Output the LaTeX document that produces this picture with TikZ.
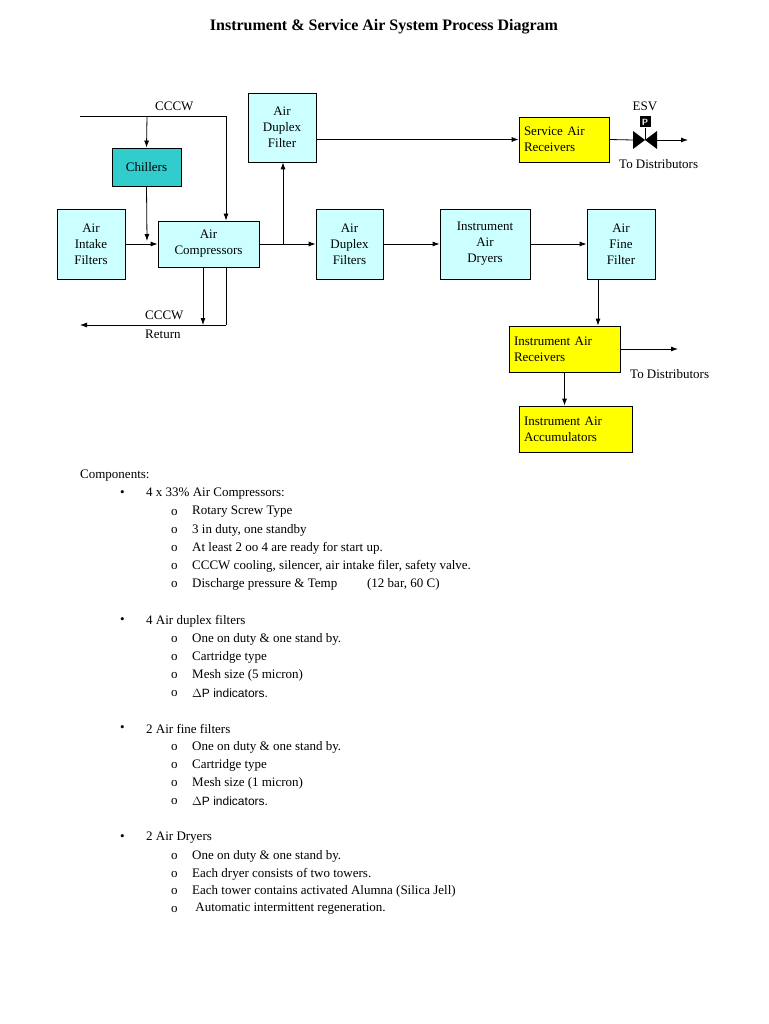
\documentclass[tikz,border=0pt]{standalone}
\usepackage{fontspec}
\setmainfont{Liberation Serif}
\newfontfamily\sansf{Liberation Sans}
\usetikzlibrary{arrows.meta}
\definecolor{lc}{RGB}{204,255,255}
\definecolor{teal2}{RGB}{51,204,204}
\definecolor{yel}{RGB}{255,255,0}
\begin{document}
\begin{tikzpicture}[x=1pt,y=-1pt,
  box/.style={draw,thick,fill=lc,align=center,font=\fontsize{13}{16}\selectfont,inner sep=0pt},
  ybox/.style={box,fill=yel,align=left},
  ar/.style={-{Latex[length=7pt,width=5pt]},thick},
  ln/.style={thick},
  txt/.style={font=\fontsize{13}{16}\selectfont,inner sep=0pt,anchor=west}]
\useasboundingbox[fill=white] (0,0) rectangle (768,1024);
\node[font=\bfseries\fontsize{16}{19}\selectfont] (title) at (384,27) {Instrument \& Service Air System Process Diagram};
% boxes
\node[box,minimum width=68,minimum height=70] (aif) at (91,244) {Air\\Intake\\Filters};
\node[box,fill=teal2,minimum width=69,minimum height=38] (ch) at (146.5,167) {Chillers};
\node[box,minimum width=101,minimum height=46] (ac) at (208.5,244) {Air\\Compressors};
\node[box,minimum width=68,minimum height=69] (adf) at (282,127.5) {Air\\Duplex\\Filter};
\node[box,minimum width=67,minimum height=70] (adfs) at (349.5,244) {Air\\Duplex\\Filters};
\node[box,minimum width=90,minimum height=70] (iad) at (485,244) {Instrument\\Air\\Dryers};
\node[box,minimum width=68,minimum height=70] (aff) at (621,244) {Air\\Fine\\Filter};
\node[ybox,minimum width=90,minimum height=45,text width=80] (sar) at (564,139.5) {Service Air\\Receivers};
\node[ybox,minimum width=111,minimum height=46,text width=101] (iar) at (564.5,349) {Instrument Air\\Receivers};
\node[ybox,minimum width=113,minimum height=46,text width=103] (iaa) at (575.5,429) {Instrument Air\\Accumulators};
% coordinates
\coordinate (c0) at (80,116);
\coordinate (c1) at (147,116);
\coordinate (c2) at (226,116);
\coordinate (c3) at (80,325);
\coordinate (c4) at (226,325);
\coordinate (c5) at (203,325);
\coordinate (br) at (283,244);
\coordinate (vl) at (645,140);
\coordinate (o1) at (688,140);
\coordinate (o2) at (678,349);
% CCCW supply
\draw[ln] (c0) -- (c2);
\draw[ar] (c2) -- (c2 |- ac.north);
\draw[ar] (c1) -- (ch.north);
\draw[ar] (ch.south) -- (147,241);
\draw[ar] (aif.east) -- (ac.west);
\node[txt] (cccw1) at (155,106) {CCCW};
% return
\draw[ar] (ac.south -| c5) -- (c5);
\draw[ln] (ac.south -| c4) -- (c4);
\draw[ar] (c4) -- (c3);
\node[txt] (cccw2) at (145,315) {CCCW};
\node[txt] (ret) at (145,334) {Return};
% main flow
\draw[ar] (ac.east) -- (adfs.west);
\draw[ar] (br) -- (adf.south -| br);
\draw[ar] (adf.east |- sar) -- (sar.west);
\draw[ar] (adfs.east) -- (iad.west);
\draw[ar] (iad.east) -- (aff.west);
\draw[ar] (aff.south -| 598,0) -- (iar.north -| 598,0);
\draw[ar] (iar.east) -- (o2);
\draw[ar] (iar.south) -- (iaa.north -| iar.south);
% valve
\draw[ln] (sar.east) -- (633,140);
\fill (633,131) -- (645,140) -- (633,149) -- cycle;
\fill (657,131) -- (645,140) -- (657,149) -- cycle;
\draw[ar] (657,140) -- (o1);
\draw (645,140) -- (645,128);
\node[fill=black,text=white,font=\sffamily\bfseries\fontsize{9}{9}\selectfont,minimum size=11pt,inner sep=0pt] (pbox) at (645,122) {P};
\node[font=\fontsize{13}{16}\selectfont] (esv) at (645,106) {ESV};
\node[txt] (td1) at (619,164) {To Distributors};
\node[txt] (td2) at (630,374) {To Distributors};
% text list
\node[txt] (comp) at (80,476) {Components:};
\foreach \y/\t in {494/{4 x 33\% Air Compressors:},621/{4 Air duplex filters},729/{2 Air fine filters},838/{2 Air Dryers}}{
  \node[txt] at (120,\y) {\textbullet};
  \node[txt] at (146,\y) {\t};}
\foreach \y/\t in {512/{Rotary Screw Type},530/{3 in duty, one standby},548/{At least 2 oo 4 are ready for start up.},566/{CCCW cooling, silencer, air intake filer, safety valve.},584/{Discharge pressure \& Temp\hspace{2.3em}(12 bar, 60 C)},
 639/{One on duty \& one stand by.},657/{Cartridge type},675/{Mesh size (5 micron)},693/{$\Delta$\sansf\fontsize{12}{14}\selectfont P indicators.},
 747/{One on duty \& one stand by.},765/{Cartridge type},783/{Mesh size (1 micron)},801/{$\Delta$\sansf\fontsize{12}{14}\selectfont P indicators.},
 856/{One on duty \& one stand by.},874/{Each dryer consists of two towers.},891/{Each tower contains activated Alumna (Silica Jell)},909/{\ Automatic intermittent regeneration.}}{
  \node[txt] at (171,\y) {o};
  \node[txt] at (192,\y) {\t};}
\end{tikzpicture}
\end{document}
